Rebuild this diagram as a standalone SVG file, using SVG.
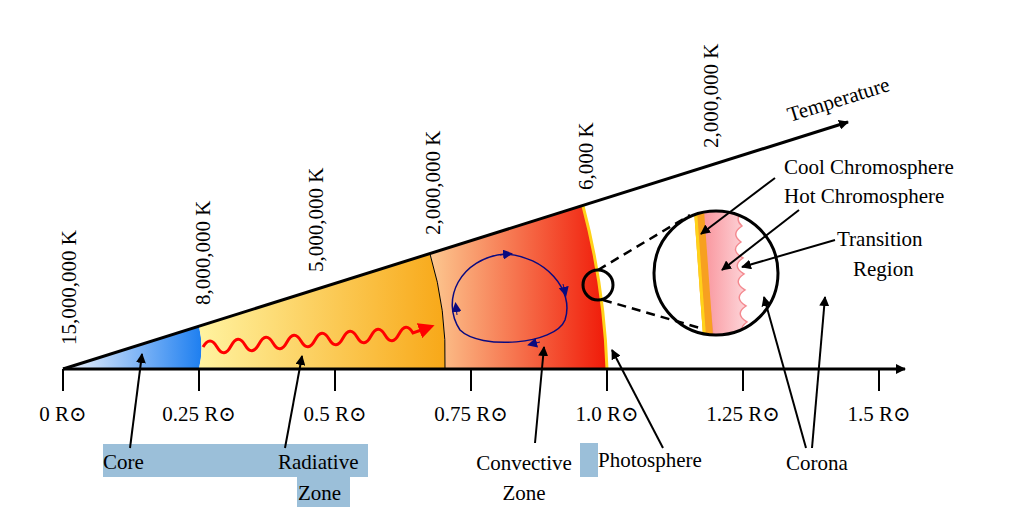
<svg xmlns="http://www.w3.org/2000/svg" width="1025" height="529" viewBox="0 0 1025 529">
<style>
text{font-family:"Liberation Serif","DejaVu Serif",serif;font-size:21px;fill:#000}
.ax{stroke:#000;stroke-width:3;fill:none}
.tk{stroke:#000;stroke-width:2}
.ar{stroke:#000;stroke-width:2;fill:none;marker-end:url(#ah)}
.hl{fill:#9bbfd9}
</style>
<defs>
<marker id="ah" markerWidth="10" markerHeight="10" refX="9" refY="5" orient="auto" markerUnits="userSpaceOnUse"><path d="M0,0 L10,5 L0,10 z" fill="#000"/></marker>
<marker id="bah" markerWidth="10" markerHeight="10" refX="5" refY="5" orient="auto" markerUnits="userSpaceOnUse"><path d="M0,0 L10,5 L0,10 z" fill="#0a0a80"/></marker>
<marker id="rah" markerWidth="16" markerHeight="16" refX="8" refY="8" orient="auto" markerUnits="userSpaceOnUse"><path d="M0,0 L16,8 L0,16 z" fill="#f00"/></marker>
<linearGradient id="gc" x1="0" x2="1"><stop offset="0" stop-color="#f4f6fd"/><stop offset="1" stop-color="#1e7ff0"/></linearGradient>
<linearGradient id="gr" x1="0" x2="1"><stop offset="0" stop-color="#fff3a0"/><stop offset="1" stop-color="#f8a818"/></linearGradient>
<linearGradient id="gv" x1="0" x2="1"><stop offset="0" stop-color="#fcc890"/><stop offset="1" stop-color="#f01a08"/></linearGradient>
<linearGradient id="gp" x1="0" x2="1"><stop offset="0" stop-color="#f99098"/><stop offset="1" stop-color="#fdd8dc"/></linearGradient>
<clipPath id="cc"><circle cx="716" cy="273" r="62"/></clipPath>
</defs>
<g id="regions">
<path d="M63,369 L199,326 Q204,348 199,369 Z" fill="url(#gc)"/>
<path d="M199,326 L430,254 Q447,310 445,369 L199,369 Q204,348 199,326 Z" fill="url(#gr)"/>
<path d="M430,254 L583,206 Q604,285 607,369 L445,369 Q447,310 430,254 Z" fill="url(#gv)"/>
<path d="M430,254 Q447,310 445,369" stroke="#000" stroke-width="1" fill="none"/>
<path d="M583,206 Q604,285 607,369" stroke="#ffd21a" stroke-width="3" fill="none"/>
</g>
<g id="zoom-detail">
<g clip-path="url(#cc)">
<path d="M700,210 L745,210 Q733,218 742,226 Q730,234 741,242 Q729,250 743,258 Q731,266 744,274 Q732,282 745,290 Q733,298 746,306 Q734,314 747,322 Q736,330 748,336 L713,336 Z" fill="url(#gp)" stroke="#f48a90" stroke-width="1.5"/>
<path d="M694,210 L704,210 L713,336 L703,336 Z" fill="#f7a020"/>
<path d="M694,210 L697,210 L706,336 L703,336 Z" fill="#ffd21a"/>
</g>
<circle cx="716" cy="273" r="62" fill="none" stroke="#000" stroke-width="3"/>
<circle cx="598" cy="285" r="15" fill="none" stroke="#000" stroke-width="3"/>
<line x1="598" y1="270" x2="690" y2="215" stroke="#000" stroke-width="2.5" stroke-dasharray="9,6"/>
<line x1="603" y1="300" x2="700" y2="328" stroke="#000" stroke-width="2.5" stroke-dasharray="9,6"/>
</g>
<g id="flows">
<path d="M203,347 q7,-12 14,0 t14,-1 t14,-1 t14,-1 t14,-1 t14,-1 t14,-1 t14,-1 t14,-1 t14,-1 t14,-1 t14,-1 t14,-1 t14,-1 t14,-1 l14,-5" stroke="#f00" stroke-width="3" fill="none" marker-end="url(#rah)"/>
<path d="M505,254 C545,256 575,290 565,320 C555,345 480,350 460,330 C440,300 460,258 505,254 Z" stroke="#0a0a80" stroke-width="1.5" fill="none"/>
<path d="M500,255 L508,254" stroke="#0a0a80" marker-end="url(#bah)"/>
<path d="M563,284 L565,292" stroke="#0a0a80" marker-end="url(#bah)"/>
<path d="M540,342 L532,344" stroke="#0a0a80" marker-end="url(#bah)"/>
<path d="M457,315 L456,307" stroke="#0a0a80" marker-end="url(#bah)"/>
</g>
<g id="axes">
<line x1="63" y1="369" x2="905" y2="369" class="ax" marker-end="url(#ah)"/>
<line x1="63" y1="369" x2="848" y2="122" class="ax" marker-end="url(#ah)"/>
<g class="tk"><line x1="63" y1="369" x2="63" y2="391"/><line x1="199" y1="369" x2="199" y2="391"/><line x1="335" y1="369" x2="335" y2="391"/><line x1="471" y1="369" x2="471" y2="391"/><line x1="607" y1="369" x2="607" y2="391"/><line x1="743" y1="369" x2="743" y2="391"/><line x1="879" y1="369" x2="879" y2="391"/></g>
</g>
<g id="labels">
<text x="63" y="421" text-anchor="middle">0 R⊙</text>
<text x="199" y="421" text-anchor="middle">0.25 R⊙</text>
<text x="335" y="421" text-anchor="middle">0.5 R⊙</text>
<text x="471" y="421" text-anchor="middle">0.75 R⊙</text>
<text x="607" y="421" text-anchor="middle">1.0 R⊙</text>
<text x="743" y="421" text-anchor="middle">1.25 R⊙</text>
<text x="879" y="421" text-anchor="middle">1.5 R⊙</text>
<text transform="translate(76,345) rotate(-90)">15,000,000 K</text>
<text transform="translate(210,305) rotate(-90)">8,000,000 K</text>
<text transform="translate(323,272) rotate(-90)">5,000,000 K</text>
<text transform="translate(440,235) rotate(-90)">2,000,000 K</text>
<text transform="translate(593,190) rotate(-90)">6,000 K</text>
<text transform="translate(718,148) rotate(-90)">2,000,000 K</text>
<text transform="translate(790,122) rotate(-17.4)">Temperature</text>
</g>
<g id="callouts">
<rect class="hl" x="103" y="444" width="265" height="33"/>
<rect class="hl" x="297" y="477" width="53" height="30"/>
<rect class="hl" x="580" y="443" width="18" height="34"/>
<text x="103" y="469">Core</text>
<text x="278" y="469">Radiative</text>
<text x="298" y="500">Zone</text>
<text x="524" y="470" text-anchor="middle">Convective</text>
<text x="524" y="500" text-anchor="middle">Zone</text>
<text x="598" y="467">Photosphere</text>
<text x="786" y="470">Corona</text>
<text x="784" y="174">Cool Chromosphere</text>
<text x="784" y="203">Hot Chromosphere</text>
<text x="837" y="246">Transition</text>
<text x="853" y="276">Region</text>
<line class="ar" x1="130" y1="448" x2="142" y2="354"/>
<line class="ar" x1="285" y1="448" x2="302" y2="356"/>
<line class="ar" x1="535" y1="443" x2="544" y2="347"/>
<line class="ar" x1="663" y1="448" x2="612" y2="350"/>
<line class="ar" x1="806" y1="448" x2="764" y2="297"/>
<line class="ar" x1="812" y1="448" x2="825" y2="297"/>
<line class="ar" x1="775" y1="178" x2="701" y2="234"/>
<line class="ar" x1="799" y1="210" x2="722" y2="270"/>
<line class="ar" x1="835" y1="240" x2="742" y2="267"/>
</g>
</svg>
